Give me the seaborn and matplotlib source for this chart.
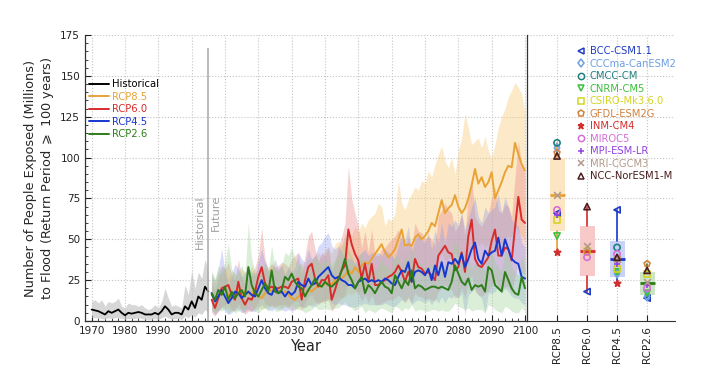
import numpy as np
import pandas as pd
import seaborn as sns
import matplotlib.pyplot as plt
from matplotlib.lines import Line2D
from matplotlib.ticker import MultipleLocator

# ---------------- data ----------------
hist_years = list(range(1970, 2006))
hist_mean = [7, 6.5, 6, 5, 4, 6, 5, 6, 7, 5, 3.5, 5, 4.5, 5, 5.5, 5, 4, 4, 4, 5,
             4, 6, 9, 7, 4, 5, 5, 4, 9, 7, 12, 8, 15, 13, 21, 18]
hist_hi = [12, 13, 11, 13, 9, 12, 11, 12, 14, 9, 8, 11, 10, 10, 9, 10, 8, 7, 8, 10,
           8, 12, 20, 14, 9, 10, 9, 8, 22, 16, 31, 20, 30, 26, 38, 30]
hist_lo = [2, 2, 2, 1.5, 1, 2, 1.5, 2, 2, 1.5, 1, 1.5, 1.5, 1.5, 2, 1.5, 1, 1, 1, 1.5,
           1, 2, 3, 2, 1, 1.5, 1.5, 1, 3, 2, 4, 2.5, 5, 4, 7, 5]

fut_years = list(range(2006, 2101))

rcp85 = [16, 12, 15, 18, 20, 16, 14, 17, 19, 15,
         18, 17, 16, 20, 15, 14, 17, 20, 18, 21,
         19, 17, 18, 16, 14, 13, 15, 17, 16, 19,
         18, 20, 22, 21, 23, 24, 22, 25, 27, 26,
         28, 31, 29, 33, 30, 34, 36, 35, 38, 41,
         44, 47, 42, 39, 41, 44, 50, 56, 46, 47,
         46, 51, 53, 50, 52, 55, 60, 58, 66, 74,
         66, 69, 71, 77, 70, 66, 69, 75, 83, 93,
         84, 88, 82, 85, 91, 75, 80, 85, 91, 95,
         94, 109, 102, 96, 92]
rcp85_hi = [28, 24, 30, 27, 33, 26, 31, 29, 25, 32,
            30, 27, 34, 29, 31, 28, 33, 30, 36, 32,
            31, 35, 29, 33, 30, 28, 34, 36, 33, 38,
            37, 40, 42, 39, 44, 45, 41, 47, 49, 46,
            50, 55, 52, 58, 54, 60, 57, 62, 64, 66,
            72, 70, 58, 63, 61, 66, 86, 72, 68, 74,
            78, 82, 80, 86, 84, 92, 88, 96, 102, 107,
            98, 94, 100, 90, 104, 112, 127, 118, 108, 110,
            112, 106, 113, 104, 100, 108, 118, 125, 130, 137,
            141, 146, 143, 139, 128]
rcp85_lo = [8, 6, 7, 9, 8, 7, 6, 9, 8, 7,
            8, 7, 6, 8, 9, 7, 8, 10, 8, 9,
            9, 8, 9, 8, 7, 7, 8, 9, 8, 10,
            10, 11, 12, 11, 12, 13, 12, 14, 15, 14,
            15, 17, 16, 18, 17, 19, 20, 19, 21, 23,
            24, 26, 23, 22, 24, 25, 28, 30, 26, 27,
            27, 29, 30, 28, 30, 32, 34, 33, 37, 41,
            37, 38, 40, 42, 39, 37, 39, 41, 45, 50,
            46, 48, 45, 47, 50, 42, 44, 47, 50, 52,
            51, 58, 55, 52, 50]

rcp60 = [13, 8, 14, 20, 21, 22, 16, 13, 24, 14,
         10, 14, 13, 18, 27, 33, 23, 20, 21, 20,
         20, 21, 21, 20, 24, 25, 26, 13, 25, 33,
         35, 26, 21, 25, 25, 28, 13, 19, 26, 31,
         34, 56, 47, 41, 37, 26, 35, 24, 35, 22,
         22, 24, 25, 27, 28, 30, 34, 30, 24, 30,
         24, 38, 33, 32, 29, 30, 28, 25, 40, 43,
         46, 42, 41, 31, 33, 42, 30, 52, 62, 38,
         34, 33, 36, 39, 49, 56, 40, 40, 45, 44,
         37, 57, 76, 62, 60]
rcp60_hi = [24, 18, 26, 34, 32, 36, 28, 25, 38, 27,
            22, 26, 28, 33, 40, 57, 38, 32, 35, 33,
            34, 36, 35, 33, 38, 40, 42, 28, 40, 52,
            55, 44, 36, 42, 40, 46, 30, 36, 45, 52,
            60, 95, 75, 66, 58, 45, 55, 42, 56, 40,
            40, 44, 45, 48, 50, 52, 56, 50, 44, 52,
            45, 60, 55, 54, 50, 52, 50, 46, 64, 68,
            72, 68, 66, 55, 58, 66, 52, 78, 88, 64,
            60, 58, 62, 66, 75, 82, 68, 66, 72, 70,
            64, 88, 110, 96, 90]
rcp60_lo = [5, 3, 6, 9, 10, 11, 7, 6, 11, 6,
            4, 6, 6, 8, 12, 15, 11, 9, 10, 9,
            10, 10, 10, 9, 11, 12, 12, 6, 11, 15,
            16, 12, 10, 12, 12, 13, 6, 9, 12, 14,
            16, 26, 22, 19, 17, 12, 16, 11, 16, 10,
            10, 11, 12, 13, 13, 14, 16, 14, 11, 14,
            11, 17, 15, 15, 13, 14, 13, 12, 18, 20,
            22, 20, 19, 14, 15, 20, 14, 24, 28, 18,
            16, 15, 17, 18, 22, 26, 19, 19, 21, 21,
            17, 27, 36, 30, 28]

rcp45 = [17, 12, 15, 19, 15, 11, 14, 18, 17, 14,
         16, 18, 16, 15, 20, 25, 20, 17, 16, 21,
         17, 18, 15, 18, 16, 18, 24, 22, 21, 26,
         22, 23, 27, 29, 31, 33, 28, 26, 27, 25,
         24, 22, 22, 20, 24, 25, 26, 24, 25, 24,
         25, 24, 26, 25, 23, 22, 27, 31, 30, 36,
         24, 30, 31, 30, 28, 32, 25, 34, 28, 36,
         27, 36, 35, 38, 35, 41, 33, 38, 44, 48,
         38, 35, 43, 40, 42, 43, 51, 40, 50, 44,
         38, 36, 35, 27, 26]
rcp45_hi = [30, 24, 32, 44, 30, 22, 28, 35, 32, 27,
            30, 33, 30, 28, 36, 44, 36, 31, 30, 38,
            32, 34, 28, 33, 30, 33, 42, 38, 36, 44,
            38, 40, 46, 48, 52, 54, 46, 44, 46, 42,
            40, 38, 38, 35, 40, 42, 44, 40, 42, 41,
            42, 40, 44, 42, 40, 38, 46, 52, 50, 58,
            42, 50, 52, 50, 48, 54, 44, 56, 48, 60,
            48, 60, 58, 62, 58, 66, 56, 63, 70, 76,
            64, 60, 70, 66, 68, 70, 78, 66, 76, 70,
            62, 60, 58, 48, 45]
rcp45_lo = [7, 4, 6, 8, 6, 4, 5, 7, 7, 5,
            6, 7, 6, 6, 8, 10, 8, 7, 6, 8,
            7, 7, 6, 7, 6, 7, 9, 9, 8, 10,
            9, 9, 11, 12, 13, 14, 11, 10, 11, 10,
            10, 9, 9, 8, 10, 10, 11, 10, 10, 10,
            10, 10, 11, 10, 9, 9, 11, 13, 12, 15,
            10, 12, 13, 12, 11, 13, 10, 14, 11, 15,
            11, 15, 14, 16, 14, 17, 4, 16, 18, 20,
            16, 14, 5, 17, 17, 18, 21, 17, 20, 18,
            15, 14, 14, 11, 10]

rcp26 = [17, 13, 19, 16, 21, 13, 18, 14, 17, 19,
         15, 33, 22, 17, 15, 19, 23, 18, 31, 18,
         17, 19, 27, 25, 29, 24, 21, 20, 15, 19,
         22, 26, 22, 21, 24, 22, 21, 23, 25, 31,
         38, 29, 25, 20, 24, 27, 17, 22, 20, 17,
         21, 24, 21, 20, 17, 28, 24, 20, 25, 22,
         31, 20, 22, 21, 19, 20, 21, 21, 20, 21,
         20, 19, 24, 34, 29, 24, 22, 26, 19, 22,
         21, 22, 18, 33, 31, 22, 20, 18, 30, 25,
         20, 17, 16, 27, 20]
rcp26_hi = [30, 26, 34, 30, 36, 47, 32, 28, 30, 34,
            28, 60, 38, 30, 28, 32, 36, 32, 46, 33,
            30, 34, 42, 40, 45, 38, 35, 34, 28, 32,
            36, 40, 36, 35, 38, 36, 34, 38, 40, 46,
            54, 44, 40, 34, 38, 42, 30, 36, 33, 30,
            34, 38, 34, 33, 30, 42, 38, 33, 40, 36,
            46, 33, 36, 35, 32, 34, 35, 34, 33, 35,
            34, 32, 38, 50, 44, 38, 36, 40, 32, 36,
            34, 36, 30, 48, 46, 36, 33, 30, 44, 40,
            33, 30, 28, 40, 34]
rcp26_lo = [6, 5, 7, 6, 8, 4, 7, 5, 6, 7,
            5, 12, 8, 6, 5, 7, 8, 6, 10, 6,
            6, 7, 9, 8, 10, 8, 7, 7, 5, 6,
            7, 9, 7, 7, 8, 7, 7, 8, 8, 10,
            12, 9, 8, 6, 8, 9, 5, 7, 6, 5,
            7, 8, 7, 6, 5, 9, 8, 6, 8, 7,
            10, 6, 7, 7, 6, 6, 7, 7, 6, 7,
            6, 6, 8, 11, 9, 8, 7, 8, 6, 7,
            7, 7, 5, 10, 9, 7, 6, 5, 9, 8,
            6, 5, 5, 8, 6]

scenarios = ['RCP8.5', 'RCP6.0', 'RCP4.5', 'RCP2.6']
line_colors = ['#E9A235', '#D92B2B', '#1737D1', '#2E7D1A']
band_colors = ['#F9C977', '#E98080', '#8A9BEF', '#98CF8E']
band_alpha = [0.40, 0.35, 0.35, 0.35]
box_colors = ['#FCE5C3', '#F7C9C9', '#CAD2F7', '#CCE6C5']

# model values per scenario (None = model not run for that scenario)
models = ['BCC-CSM1.1', 'CCCma-CanESM2', 'CMCC-CM', 'CNRM-CM5', 'CSIRO-Mk3.6.0',
          'GFDL-ESM2G', 'INM-CM4', 'MIROC5', 'MPI-ESM-LR', 'MRI-CGCM3', 'NCC-NorESM1-M']
model_colors = ['#1F3BC4', '#6E9FE2', '#1F8080', '#3DBE3D', '#D4D420',
                '#D2823E', '#D22E2E', '#D46FD8', '#9440E2', '#B49A8A', '#4A1E1E']
model_markers = ['<', 'd', 'o', 'v', 's', 'p', '*', 'o', '+', 'x', '^']
model_vals = {
    'RCP8.5': [66, 106, 109, 52, 62, 103, 42, 68, 65, 77, 101],
    'RCP6.0': [18, None, None, None, 43, 42, None, 39, None, 46, 70],
    'RCP4.5': [68, 29, 45, 30, 32, 38, 23, 41, 35, 38, 39],
    'RCP2.6': [14, 15, None, 17, 29, 35, None, 20, 22, 24, 31],
}

# ---------------- figure ----------------
sns.set_style("ticks")
plt.rcParams['font.family'] = ['DejaVu Sans']

fig = plt.figure(figsize=(7.2, 3.75), dpi=100)
ax = fig.add_axes([85 / 720, 1 - 321 / 375, 442 / 720, 286 / 375])
ax2 = fig.add_axes([527 / 720, 1 - 321 / 375, 148 / 720, 286 / 375], sharey=ax)

# historical
ax.fill_between(hist_years, hist_lo, hist_hi, color='#C6C6C6', alpha=0.7, lw=0)
hist_df = pd.DataFrame({'year': hist_years, 'people': hist_mean})
sns.lineplot(data=hist_df, x='year', y='people', color='black', lw=1.3, ax=ax)

# future bands
bands = [(rcp85_lo, rcp85_hi), (rcp60_lo, rcp60_hi), (rcp45_lo, rcp45_hi), (rcp26_lo, rcp26_hi)]
for (lo, hi), c, a in zip(bands, band_colors, band_alpha):
    ax.fill_between(fut_years, lo, hi, color=c, alpha=a, lw=0)

fut_df = pd.DataFrame({
    'year': fut_years * 4,
    'people': rcp85 + rcp60 + rcp45 + rcp26,
    'scenario': np.repeat(scenarios, len(fut_years)),
})
sns.lineplot(data=fut_df, x='year', y='people', hue='scenario', hue_order=scenarios,
             palette=line_colors, lw=1.4, ax=ax, legend=False)

ax.vlines(2005, 0, 167, color='#A8A8A8', lw=1.1)
ax.text(2002.6, 44, 'Historical', rotation=90, color='#A0A0A0', fontsize=8.2,
        ha='center', va='bottom')
ax.text(2007.4, 55, 'Future', rotation=90, color='#A0A0A0', fontsize=8.2,
        ha='center', va='bottom')

ax.set_xlim(1968, 2100.6)
ax.set_ylim(0, 175)
ax.xaxis.set_major_locator(MultipleLocator(10))
ax.xaxis.set_minor_locator(MultipleLocator(2))
ax.yaxis.set_major_locator(MultipleLocator(25))
ax.yaxis.set_minor_locator(MultipleLocator(5))
ax.tick_params(which='both', direction='in', labelsize=7.5, colors='#222222')
ax.tick_params(which='major', length=4)
ax.tick_params(which='minor', length=2)
ax.grid(True, which='major', ls=':', color='#C4C4C4', lw=0.8)
ax.set_xlabel('Year', fontsize=10.5, labelpad=2)
ax.set_ylabel('Number of People Exposed (Millions)\n'
              r'to Flood (Return Period $\geqslant$ 100 years)', fontsize=9.3, labelpad=3)
for s in ['left', 'bottom']:
    ax.spines[s].set_color('#333333')
    ax.spines[s].set_linewidth(0.9)
ax.spines['top'].set_visible(False)
ax.spines['right'].set_visible(False)

handles = [Line2D([], [], color='black', lw=1.4)] + \
          [Line2D([], [], color=c, lw=1.4) for c in line_colors]
leg = ax.legend(handles, ['Historical'] + scenarios, loc='upper left',
                bbox_to_anchor=(0.008, 0.845), frameon=False, fontsize=7.2,
                handlelength=2.0, handletextpad=0.3, labelspacing=0.25,
                borderaxespad=0, borderpad=0, labelcolor='linecolor')

# ---------------- right panel ----------------
positions = [1, 2, 3, 4]
for pos, sc, lc, bc in zip(positions, scenarios, line_colors, box_colors):
    vals = np.array([v for v in model_vals[sc] if v is not None], dtype=float)
    mu, sd = vals.mean(), vals.std()
    stats = [{'med': mu, 'q1': mu - sd, 'q3': mu + sd,
              'whislo': vals.min(), 'whishi': vals.max(), 'fliers': []}]
    ax2.bxp(stats, positions=[pos], widths=0.5, patch_artist=True, showcaps=False,
            boxprops=dict(facecolor=bc, edgecolor='none'),
            medianprops=dict(color=lc, lw=2),
            whiskerprops=dict(color=lc, lw=1.2), manage_ticks=False)
    for m, v in enumerate(model_vals[sc]):
        if v is None:
            continue
        mk = model_markers[m]
        if mk in ['+', 'x', '*']:
            ax2.scatter(pos, v, marker=mk, s=24, color=model_colors[m], lw=1.2, zorder=5)
        else:
            ax2.scatter(pos, v, marker=mk, s=20, facecolors='none',
                        edgecolors=model_colors[m], lw=1.2, zorder=5)

ax2.set_xlim(0, 4.93)
ax2.set_xticks(positions)
ax2.set_xticklabels(scenarios, rotation=90, fontsize=7.5)
ax2.tick_params(axis='y', which='both', left=False, right=False, labelleft=False)
ax2.tick_params(axis='x', which='both', direction='in', length=4, colors='#222222')
ax2.grid(True, which='major', ls=':', color='#C4C4C4', lw=0.8)
ax2.spines['left'].set_color('#333333')
ax2.spines['left'].set_linewidth(0.9)
ax2.spines['right'].set_visible(False)
ax2.spines['top'].set_visible(False)
ax2.spines['bottom'].set_color('#333333')

mhandles = []
for mk, c in zip(model_markers, model_colors):
    if mk in ['+', 'x', '*']:
        mhandles.append(Line2D([], [], ls='none', marker=mk, color=c, markersize=4.5, mew=1.1))
    else:
        mhandles.append(Line2D([], [], ls='none', marker=mk, markerfacecolor='none',
                               markeredgecolor=c, color=c, markersize=4.5, mew=1.1))
leg2 = ax2.legend(mhandles, models, loc='upper left', bbox_to_anchor=(0.33, 0.96),
                  frameon=False, fontsize=7.2, handlelength=1.0, handletextpad=0.4,
                  labelspacing=0.25, borderaxespad=0, borderpad=0)
for t, c in zip(leg2.get_texts(), model_colors):
    t.set_color(c)

fig.savefig('out.png', dpi=100)
